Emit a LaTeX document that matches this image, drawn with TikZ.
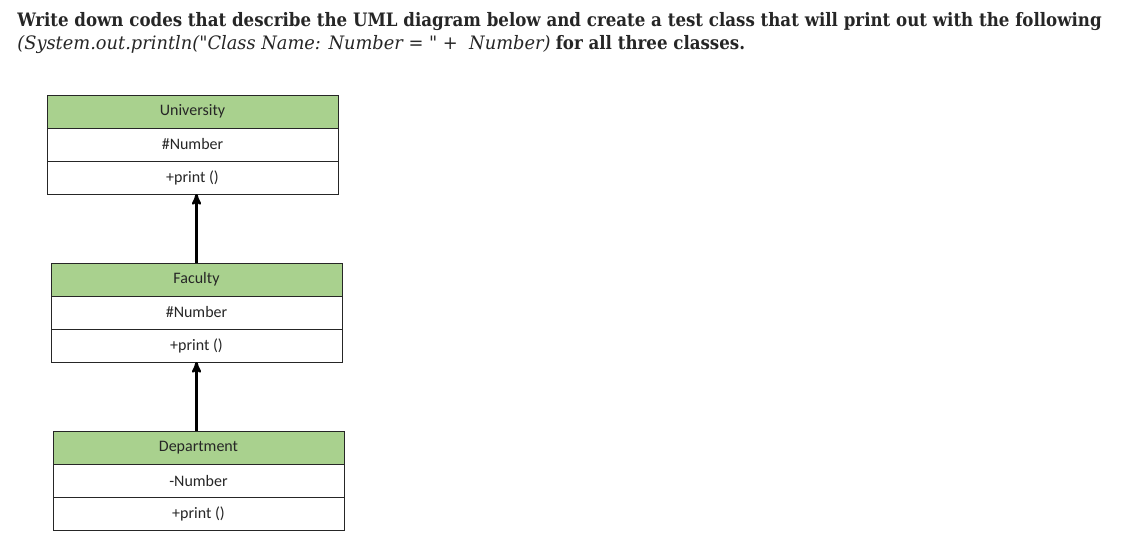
\documentclass[tikz,border=0pt]{standalone}
\usepackage{fontspec}
\newfontfamily\taskfont{DejaVu Serif Condensed}
\newfontfamily\taskwide{DejaVu Serif Condensed}[FakeStretch=1.07]
\newfontfamily\boxfont{Carlito}
\usepackage{xcolor}
\usetikzlibrary{positioning, arrows}

\definecolor{headgreen}{HTML}{A9D18E}
\definecolor{inkgray}{HTML}{262626}

\tikzset{
  classhead/.style={draw=black!85, fill=headgreen, minimum width=291pt,
    minimum height=33pt, inner sep=0pt, outer sep=0pt, text=inkgray,
    font=\boxfont\fontsize{16}{19}\selectfont},
  classrow/.style={classhead, fill=white},
  heading/.style={anchor=base west, inner sep=0pt, text=inkgray,
    font=\taskfont\fontsize{18.5}{22}\selectfont},
  inherits/.style={->, line width=2.5pt},
}

\begin{document}
\begin{tikzpicture}[x=1pt, y=-1pt, >=stealth', line width=0.8pt]
        \useasboundingbox (0,0) rectangle (1121,551);
        % task text
        \node[heading] (task1) at (17,27)
            {\bfseries Write down codes that describe the UML diagram below and create a test class that will print out with the following};
        \node[heading] (task2) at (17,49)
            {{\taskwide\itshape (System.out.println("Class Name: Number = " + \ Number)}\ \bfseries for all three classes.};
        % classes
        \node[classhead, anchor=north west] (unihead) at (47,95) {University};
        \node[classrow, below=0pt of unihead] (uniattr) {\#Number};
        \node[classrow, below=0pt of uniattr] (unimeth) {+print ()};
        \node[classhead, anchor=north west] (fachead) at (51,263) {Faculty};
        \node[classrow, below=0pt of fachead] (facattr) {\#Number};
        \node[classrow, below=0pt of facattr] (facmeth) {+print ()};
        \node[classhead, anchor=north west] (dephead) at (53,431) {Department};
        \node[classrow, below=0pt of dephead] (depattr) {-Number};
        \node[classrow, below=0pt of depattr] (depmeth) {+print ()};
        % generalisation
        \draw[inherits] (fachead.north) -- (fachead.north |- unimeth.south);
        \draw[inherits] (facmeth.south |- dephead.north) -- (facmeth.south);
\end{tikzpicture}
\end{document}
